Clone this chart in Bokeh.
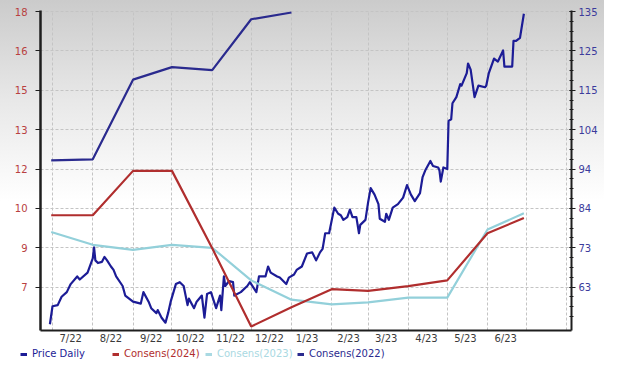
import numpy as np
import pandas as pd
from datetime import datetime
from bokeh.plotting import figure
from bokeh.models import (Range1d, LinearAxis, FixedTicker, Legend, LegendItem,
                          ColumnDataSource)
from bokeh.embed import file_html
from bokeh.resources import INLINE

# ---------------- data ----------------
price_dates = [
    "2022-06-29", "2022-07-01", "2022-07-05", "2022-07-08", "2022-07-12", "2022-07-15",
    "2022-07-20", "2022-07-22", "2022-07-28", "2022-08-01", "2022-08-02", "2022-08-03",
    "2022-08-05", "2022-08-08", "2022-08-10", "2022-08-12", "2022-08-15", "2022-08-17",
    "2022-08-19", "2022-08-24", "2022-08-26", "2022-09-01", "2022-09-07", "2022-09-09",
    "2022-09-13", "2022-09-15", "2022-09-19", "2022-09-20", "2022-09-23", "2022-09-26",
    "2022-09-28", "2022-09-30", "2022-10-04", "2022-10-07", "2022-10-10", "2022-10-13",
    "2022-10-14", "2022-10-18", "2022-10-20", "2022-10-24", "2022-10-26", "2022-10-28",
    "2022-10-31", "2022-11-04", "2022-11-07", "2022-11-08", "2022-11-10", "2022-11-11",
    "2022-11-14", "2022-11-17", "2022-11-18", "2022-11-23", "2022-11-28", "2022-11-30",
    "2022-12-05", "2022-12-07", "2022-12-12", "2022-12-14", "2022-12-16", "2022-12-21",
    "2022-12-23", "2022-12-28", "2022-12-30", "2023-01-03", "2023-01-05", "2023-01-09",
    "2023-01-13", "2023-01-17", "2023-01-20", "2023-01-23", "2023-01-25", "2023-01-27",
    "2023-01-30", "2023-02-03", "2023-02-06", "2023-02-08", "2023-02-10", "2023-02-13",
    "2023-02-15", "2023-02-17", "2023-02-20", "2023-02-22", "2023-02-23", "2023-02-27",
    "2023-03-01", "2023-03-03", "2023-03-06", "2023-03-09", "2023-03-10", "2023-03-14",
    "2023-03-15", "2023-03-17", "2023-03-20", "2023-03-24", "2023-03-28", "2023-03-31",
    "2023-04-03", "2023-04-06", "2023-04-10", "2023-04-12", "2023-04-14", "2023-04-18",
    "2023-04-20", "2023-04-24", "2023-04-25", "2023-04-26", "2023-04-28", "2023-05-01",
    "2023-05-02", "2023-05-04", "2023-05-05", "2023-05-08", "2023-05-11", "2023-05-12",
    "2023-05-16", "2023-05-17", "2023-05-19", "2023-05-22", "2023-05-25", "2023-05-30",
    "2023-05-31", "2023-06-02", "2023-06-06", "2023-06-09", "2023-06-13", "2023-06-14",
    "2023-06-16", "2023-06-20", "2023-06-21", "2023-06-23", "2023-06-26", "2023-06-29",
]
price_daily = [
    53.4, 58.1, 58.4, 60.6, 61.8, 63.9,
    65.9, 65.1, 66.9, 70.6, 73.5, 70.1,
    69.4, 69.7, 71.0, 70.1, 68.5, 67.6,
    65.9, 63.4, 60.9, 59.3, 58.8, 61.8,
    59.3, 57.6, 56.3, 57.1, 55.1, 53.8,
    56.3, 59.3, 63.9, 64.4, 63.4, 58.4,
    60.1, 57.6, 59.3, 60.9, 55.1, 61.3,
    61.8, 57.6, 60.9, 57.1, 65.9, 63.4,
    64.7, 64.4, 60.9, 61.8, 63.4, 64.4,
    61.8, 65.9, 65.9, 68.5, 66.9, 65.9,
    65.6, 63.9, 65.6, 66.4, 67.6, 68.5,
    71.9, 72.2, 70.1, 72.2, 73.1, 77.2,
    77.2, 83.9, 82.3, 81.9, 80.7, 81.4,
    83.4, 81.4, 81.4, 77.2, 79.4, 80.7,
    85.2, 89.0, 87.3, 84.8, 81.0, 80.2,
    82.3, 80.7, 83.9, 84.8, 86.5, 89.8,
    87.3, 85.6, 87.7, 91.9, 93.6, 96.1,
    94.8, 94.4, 93.6, 90.7, 94.4, 94.0,
    106.6, 107.0, 111.2, 112.8, 116.2, 115.8,
    119.1, 121.6, 120.0, 112.8, 115.8, 115.4,
    115.8, 119.1, 122.9, 122.1, 125.0, 120.8,
    120.8, 120.8, 127.5, 127.5, 128.3, 134.6,
]

cons_dates = ["2022-06-30", "2022-08-01", "2022-09-01", "2022-10-01", "2022-11-01",
              "2022-12-01", "2023-01-01", "2023-02-01", "2023-03-01", "2023-04-01",
              "2023-05-01", "2023-06-01", "2023-06-29"]
cons_2024 = [9.87, 9.87, 11.64, 11.64, 8.55, 5.43, 6.2, 6.92, 6.85, 7.04, 7.27, 9.15, 9.76]
cons_2023 = [9.20, 8.69, 8.49, 8.69, 8.57, 7.27, 6.50, 6.31, 6.39, 6.58, 6.58, 9.30, 9.95]
cons_2022_dates = cons_dates[:7]
cons_2022 = [12.06, 12.10, 15.28, 15.78, 15.66, 17.69, 17.96]

month_label_dates = ["2022-07-15", "2022-08-15", "2022-09-15", "2022-10-15", "2022-11-15",
                     "2022-12-15", "2023-01-13", "2023-02-14", "2023-03-15", "2023-04-15",
                     "2023-05-15", "2023-06-15"]
month_labels = ["7/22", "8/22", "9/22", "10/22", "11/22", "12/22",
                "1/23", "2/23", "3/23", "4/23", "5/23", "6/23"]
month_grid_dates = ["2022-07-01", "2022-08-01", "2022-09-01", "2022-10-01", "2022-11-01",
                    "2022-12-01", "2023-01-01", "2023-02-01", "2023-03-01", "2023-04-01",
                    "2023-05-01", "2023-06-01", "2023-07-01", "2023-08-01"]

left_tick_labels = ["7", "9", "10", "12", "13", "15", "16", "18"]
right_tick_labels = ["63", "73", "84", "94", "104", "115", "125", "135"]

series_names = ["Price Daily", "Consens(2024)", "Consens(2023)", "Consens(2022)"]

# ---------------- styling ----------------
NAVY = "#1c1c96"
NAVY22 = "#2a2a8e"
RED = "#b02e2e"
CYAN = "#93d0da"
FONT = "DejaVu Sans"


def ms(d):
    return int(pd.Timestamp(d).value // 10**6)


left_lo, left_hi = 5.27, 18.04
left_ticks = [round(v, 4) for v in np.linspace(7, 18, 8)]
right_ticks = [round(v, 4) for v in np.linspace(63.1, 135.2, 8)]
# right axis range aligned to left gridlines
scale = (right_ticks[-1] - right_ticks[0]) / (left_ticks[-1] - left_ticks[0])
right_lo = right_ticks[0] + (left_lo - left_ticks[0]) * scale
right_hi = right_ticks[0] + (left_hi - left_ticks[0]) * scale
step = (right_ticks[1] - right_ticks[0]) / 4
right_minor = [round(right_ticks[0] + k * step, 4) for k in range(-3, 29)]

p = figure(width=604, height=346, x_axis_type="datetime",
           output_backend="svg", toolbar_location=None,
           x_range=Range1d(datetime(2022, 6, 21, 18), datetime(2023, 8, 4, 16)),
           y_range=Range1d(left_lo, left_hi),
           min_border_left=40, min_border_right=33, min_border_top=10, min_border_bottom=15)
p.extra_y_ranges = {"price": Range1d(right_lo, right_hi)}

p.background_fill_color = None
p.border_fill_color = None
p.outline_line_color = None
p.styles = {"background": "linear-gradient(180deg, #cbcbcb 0%, #e8e8e8 29%, #ffffff 58%, #ffffff 100%)"}

# x axis
xa = p.xaxis[0]
xa.ticker = FixedTicker(ticks=[ms(d) for d in month_label_dates])
xa.major_label_overrides = {ms(d): lab for d, lab in zip(month_label_dates, month_labels)}
xa.major_tick_in = 0
xa.major_tick_out = 0
xa.minor_tick_in = 0
xa.minor_tick_out = 0
xa.major_tick_line_color = None
xa.minor_tick_line_color = None
xa.axis_line_color = "#1e1e1e"
xa.axis_line_width = 2
xa.major_label_text_font = FONT
xa.major_label_text_font_size = "10px"
xa.major_label_text_color = "#3a3a3a"
xa.major_label_standoff = 2

# left axis
ya = p.yaxis[0]
ya.ticker = FixedTicker(ticks=left_ticks)
ya.major_label_overrides = {t: lab for t, lab in zip(left_ticks, left_tick_labels)}
ya.axis_line_color = "#1e1e1e"
ya.axis_line_width = 2.5
ya.major_tick_in = 0
ya.major_tick_out = 5
ya.major_tick_line_color = "#1e1e1e"
ya.minor_tick_line_color = None
ya.major_label_standoff = 8
ya.major_label_text_font = FONT
ya.major_label_text_font_size = "10px"
ya.major_label_text_color = "#b84040"

# right axis
ra = LinearAxis(y_range_name="price",
                ticker=FixedTicker(ticks=right_ticks, minor_ticks=right_minor))
ra.major_label_overrides = {t: lab for t, lab in zip(right_ticks, right_tick_labels)}
ra.axis_line_color = "#1e1e1e"
ra.axis_line_width = 2
ra.major_tick_in = 2
ra.major_tick_out = 4
ra.minor_tick_in = 2
ra.minor_tick_out = 2
ra.major_tick_line_color = "#1e1e1e"
ra.minor_tick_line_color = "#1e1e1e"
ra.major_label_standoff = 3
ra.major_label_text_font = FONT
ra.major_label_text_font_size = "10px"
ra.major_label_text_color = "#3b3b9c"
p.add_layout(ra, "right")

# grids
p.xgrid.ticker = FixedTicker(ticks=[ms(d) for d in month_grid_dates])
p.ygrid.ticker = FixedTicker(ticks=left_ticks)
for g in (p.xgrid[0], p.ygrid[0]):
    g.grid_line_color = "#c4c4c4"
    g.grid_line_dash = "3 2"
    g.grid_line_width = 1

# ---------------- series ----------------
src_price = ColumnDataSource(dict(x=pd.to_datetime(price_dates), y=price_daily))
src_cons = ColumnDataSource(dict(x=pd.to_datetime(cons_dates), y24=cons_2024, y23=cons_2023))
src_c22 = ColumnDataSource(dict(x=pd.to_datetime(cons_2022_dates), y=cons_2022))

r_price = p.line("x", "y", source=src_price, y_range_name="price",
                 line_color=NAVY, line_width=2.2, line_join="round")
r_23 = p.line("x", "y23", source=src_cons, line_color=CYAN, line_width=2.2)
r_24 = p.line("x", "y24", source=src_cons, line_color=RED, line_width=2.2)
r_22 = p.line("x", "y", source=src_c22, line_color=NAVY22, line_width=2.2)

# ---------------- legend strip (separate root so nothing is clipped) ----------------
lf = figure(width=604, height=13, output_backend="svg", toolbar_location=None,
            x_range=Range1d(0, 604), y_range=Range1d(0, 13),
            x_axis_location=None, y_axis_location=None,
            min_border=0, min_border_left=0, min_border_right=0,
            min_border_top=0, min_border_bottom=0)
lf.grid.visible = False
lf.outline_line_color = None
lf.background_fill_color = None
lf.border_fill_color = "white"

legend_colors = [NAVY, RED, "#a9d9e2", NAVY22]
legend_x = [20, 112, 205, 297]
for label, color, xoff in zip(series_names, legend_colors, legend_x):
    dummy = lf.line(x=[0, 1], y=[-10, -10], line_color=color, line_width=3)
    leg = Legend(items=[LegendItem(label=label, renderers=[dummy])],
                 location=(xoff, 0), orientation="horizontal",
                 label_text_color=color, label_text_font=FONT,
                 label_text_font_size="10px",
                 glyph_width=7, glyph_height=10, label_height=10,
                 label_standoff=5, padding=0, margin=0, spacing=0,
                 border_line_color=None, background_fill_alpha=0)
    lf.add_layout(leg)

open("out.html", "w").write(file_html([p, lf], INLINE))
